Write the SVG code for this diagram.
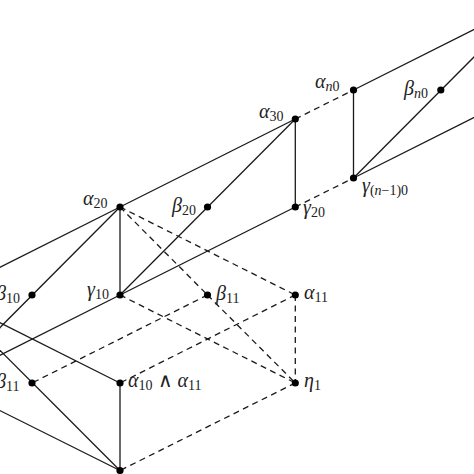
<svg xmlns="http://www.w3.org/2000/svg" width="474" height="474" viewBox="0 0 474 474">
<style>
.s{stroke:#1a1a1a;stroke-width:1.3;fill:none}
.d{stroke:#1a1a1a;stroke-width:1.3;fill:none;stroke-dasharray:6 4.5}
.n{fill:#000}
text{font-family:"Liberation Serif","Times New Roman",serif;font-size:20px;fill:#222}
.g{font-style:italic}
.sub{font-size:14px;font-style:normal}
.si{font-size:14px;font-style:italic}
</style>
<rect width="474" height="474" fill="#fff"/>
<g id="connectors">
<line class="s" x1="-55.3" y1="295" x2="120" y2="207"/>
<line class="s" x1="120" y1="207" x2="295.3" y2="119"/>
<line class="s" x1="120" y1="207" x2="120" y2="295"/>
<line class="s" x1="-55.3" y1="383" x2="120" y2="207"/>
<line class="s" x1="120" y1="295" x2="295.3" y2="119"/>
<line class="s" x1="120" y1="295" x2="295.3" y2="207"/>
<line class="s" x1="295.3" y1="119" x2="295.3" y2="207"/>
<line class="s" x1="353.5" y1="90" x2="528.8" y2="2"/>
<line class="s" x1="353.5" y1="90" x2="353.5" y2="178"/>
<line class="s" x1="353.5" y1="178" x2="528.8" y2="2"/>
<line class="s" x1="353.5" y1="178" x2="528.8" y2="90"/>
<line class="s" x1="-55.3" y1="383" x2="120" y2="295"/>
<line class="s" x1="-55.3" y1="295" x2="120" y2="383"/>
<line class="s" x1="-55.3" y1="295" x2="120" y2="470.5"/>
<line class="s" x1="-55.3" y1="383" x2="120" y2="470.5"/>
<line class="s" x1="120" y1="383" x2="120" y2="470.5"/>
<line class="d" x1="120" y1="207" x2="207.5" y2="295"/>
<line class="d" x1="120" y1="207" x2="295.3" y2="295"/>
<line class="d" x1="120" y1="295" x2="295.3" y2="383"/>
<line class="d" x1="207.5" y1="295" x2="295.3" y2="383"/>
<line class="d" x1="207.5" y1="295" x2="32" y2="383"/>
<line class="d" x1="295.3" y1="295" x2="295.3" y2="383"/>
<line class="d" x1="295.3" y1="295" x2="120" y2="383"/>
<line class="d" x1="295.3" y1="383" x2="120" y2="470.5"/>
<line class="d" x1="295.3" y1="119" x2="353.5" y2="90"/>
<line class="d" x1="295.3" y1="207" x2="353.5" y2="178"/>
</g>
<g id="alpha20"><circle class="n" cx="120" cy="207" r="3.6"/><text x="83" y="205"><tspan class="g">α</tspan><tspan class="sub" dy="3">20</tspan></text></g>
<g id="beta20"><circle class="n" cx="207.5" cy="207" r="3.6"/><text x="172" y="212"><tspan class="g">β</tspan><tspan class="sub" dy="3">20</tspan></text></g>
<g id="alpha30"><circle class="n" cx="295.3" cy="119" r="3.6"/><text x="259" y="118"><tspan class="g">α</tspan><tspan class="sub" dy="3">30</tspan></text></g>
<g id="gamma20"><circle class="n" cx="295.3" cy="207" r="3.6"/><text x="303" y="214"><tspan class="g">γ</tspan><tspan class="sub" dy="3">20</tspan></text></g>
<g id="alphan0"><circle class="n" cx="353.5" cy="90" r="3.6"/><text x="315" y="88"><tspan class="g">α</tspan><tspan class="si" dy="3">n</tspan><tspan class="sub">0</tspan></text></g>
<g id="betan0"><circle class="n" cx="440.8" cy="90" r="3.6"/><text x="404" y="95"><tspan class="g">β</tspan><tspan class="si" dy="3">n</tspan><tspan class="sub">0</tspan></text></g>
<g id="gamman10"><circle class="n" cx="353.5" cy="178" r="3.6"/><text x="362" y="192"><tspan class="g">γ</tspan><tspan class="sub" dy="3">(</tspan><tspan class="si">n</tspan><tspan class="sub">−1)0</tspan></text></g>
<g id="gamma10"><circle class="n" cx="120" cy="295" r="3.6"/><text x="87" y="296"><tspan class="g">γ</tspan><tspan class="sub" dy="3">10</tspan></text></g>
<g id="beta10"><circle class="n" cx="32" cy="295" r="3.6"/><text x="-4" y="300"><tspan class="g">β</tspan><tspan class="sub" dy="3">10</tspan></text></g>
<g id="beta11r"><circle class="n" cx="207.5" cy="295" r="3.6"/><text x="216" y="300"><tspan class="g">β</tspan><tspan class="sub" dy="3">11</tspan></text></g>
<g id="alpha11"><circle class="n" cx="295.3" cy="295" r="3.6"/><text x="304" y="299"><tspan class="g">α</tspan><tspan class="sub" dy="3">11</tspan></text></g>
<g id="beta11l"><circle class="n" cx="32" cy="383" r="3.6"/><text x="-4" y="388"><tspan class="g">β</tspan><tspan class="sub" dy="3">11</tspan></text></g>
<g id="alpha10alpha11"><circle class="n" cx="120" cy="383" r="3.6"/><text x="128" y="387"><tspan class="g">α</tspan><tspan class="sub" dy="3">10</tspan><tspan dy="-3"> ∧ </tspan><tspan class="g">α</tspan><tspan class="sub" dy="3">11</tspan></text></g>
<g id="eta1"><circle class="n" cx="295.3" cy="383" r="3.6"/><text x="304" y="387"><tspan class="g">η</tspan><tspan class="sub" dy="3">1</tspan></text></g>
<g id="bottom"><circle class="n" cx="120" cy="470.5" r="3.6"/></g>
</svg>
